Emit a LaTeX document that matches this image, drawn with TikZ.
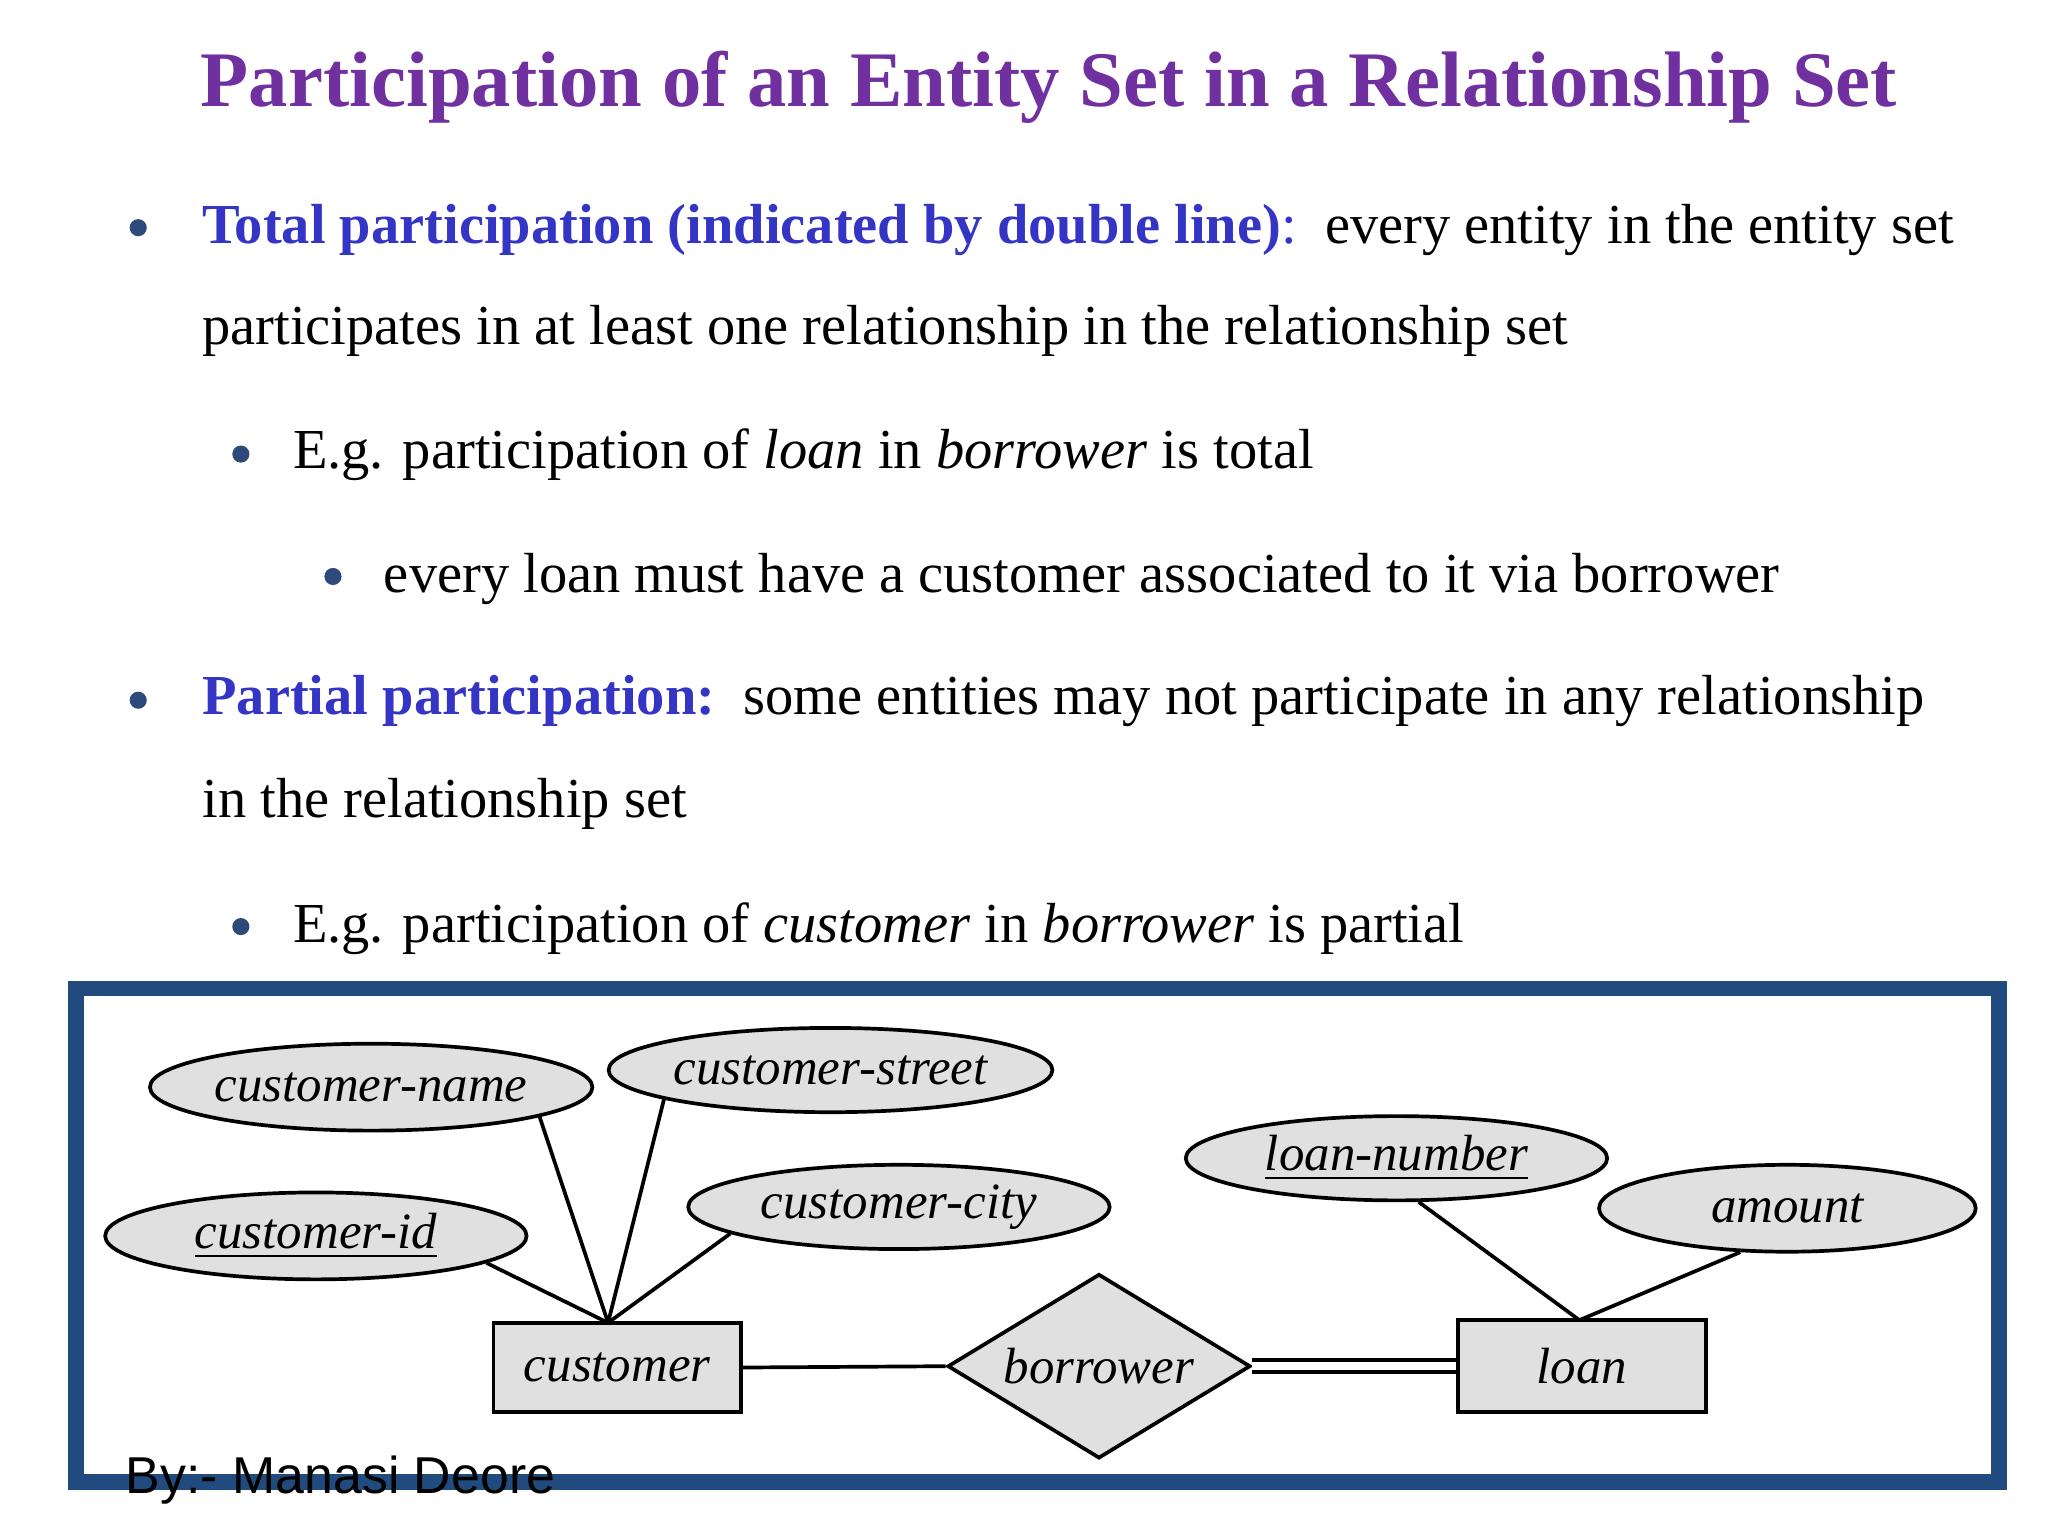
\documentclass[tikz,border=0pt]{standalone}
\usepackage{fontspec}
\setmainfont{Liberation Serif}
\newfontfamily\footfont{Liberation Sans}
\usetikzlibrary{shapes.geometric}
\definecolor{ttl}{HTML}{7030A0}
\definecolor{hdr}{HTML}{3535C5}
\definecolor{dot}{HTML}{2E4A7A}
\definecolor{frm}{HTML}{214B7E}
\definecolor{shade}{HTML}{E0E0E0}
\tikzset{
 txt/.style={anchor=base west,inner sep=0pt,font=\fontsize{12.2}{14}\selectfont},
 bul/.style={circle,fill=dot,inner sep=0pt,minimum size=0.13cm},
 attr/.style={ellipse,draw,thick,fill=shade,inner sep=0pt,font=\fontsize{11}{13}\selectfont\itshape},
 ent/.style={rectangle,draw,thick,fill=shade,font=\fontsize{11}{13}\selectfont\itshape},
 rel/.style={diamond,draw,thick,fill=shade,aspect=1.7,inner sep=1pt,font=\fontsize{11}{13}\selectfont\itshape},
 ln/.style={thick}
}
\begin{document}
\begin{tikzpicture}[x=0.01cm,y=-0.01cm]
\useasboundingbox (0,0) rectangle (1556,1170);
\node (title) at (797,66) {\fontsize{17}{20}\selectfont\bfseries\color{ttl}Participation of an Entity Set in a Relationship Set};
\node[bul] (b1) at (105,173) {};
\node[txt] (t1) at (153,185) {\textbf{\color{hdr}Total participation (indicated by double line)}{\color{hdr}:}\ \ every entity in the entity set};
\node[txt] (t2) at (153,262) {participates in at least one relationship in the relationship set};
\node[bul] (b2) at (183,345) {};
\node[txt] (t3) at (222,356) {E.g. participation of \textit{loan} in \textit{borrower} is total};
\node[bul] (b3) at (253,438) {};
\node[txt] (t4) at (291,450) {every loan must have a customer associated to it via borrower};
\node[bul] (b4) at (105,532) {};
\node[txt] (t5) at (153,543) {\textbf{\color{hdr}Partial participation:}\ \ some entities may not participate in any relationship};
\node[txt] (t6) at (153,621) {in the relationship set};
\node[bul] (b5) at (183,704) {};
\node[txt] (t7) at (222,716) {E.g. participation of \textit{customer} in \textit{borrower} is partial};
\draw[frm,line width=3.4pt] (58,751) rectangle (1519,1126);
% ER
\node[ent,minimum width=1.88cm,minimum height=0.68cm] (cust) at (469,1039) {customer};
\node[ent,minimum width=1.88cm,minimum height=0.70cm] (loan) at (1202,1038) {loan};
\node[rel,minimum width=2.3cm,minimum height=1.4cm] (borr) at (835,1038) {borrower};
\node[attr,minimum width=3.2cm,minimum height=0.66cm] (cname) at (282,826) {customer-name};
\node[attr,minimum width=3.2cm,minimum height=0.64cm] (cstreet) at (631,813) {customer-street};
\node[attr,minimum width=3.2cm,minimum height=0.66cm] (cid) at (240,939) {\underline{customer-id}};
\node[attr,minimum width=3.2cm,minimum height=0.64cm] (ccity) at (683,917) {customer-city};
\node[attr,minimum width=3.2cm,minimum height=0.64cm] (lnum) at (1061,880) {\underline{loan-number}};
\node[attr,minimum width=2.86cm,minimum height=0.66cm] (amt) at (1358,918) {amount};
\coordinate (cj) at (462,1005);
\coordinate (lj) at (1200,1003);
\draw[ln] (cname.-10) -- (cj);
\draw[ln] (cstreet.190) -- (cj);
\draw[ln] (cid.-9) -- (cj);
\draw[ln] (ccity.189) -- (cj);
\draw[ln] (lnum.-63) -- (lj);
\draw[ln] (amt.223) -- (lj);
\draw[ln] (cust.east) -- (borr.west);
\draw[thick,double,double distance=1.8pt] (borr.east) -- (loan.west);
\node[anchor=base west,inner sep=0pt] (by) at (95,1135) {\footfont\fontsize{11.2}{13}\selectfont By:- Manasi Deore};
\end{tikzpicture}
\end{document}
